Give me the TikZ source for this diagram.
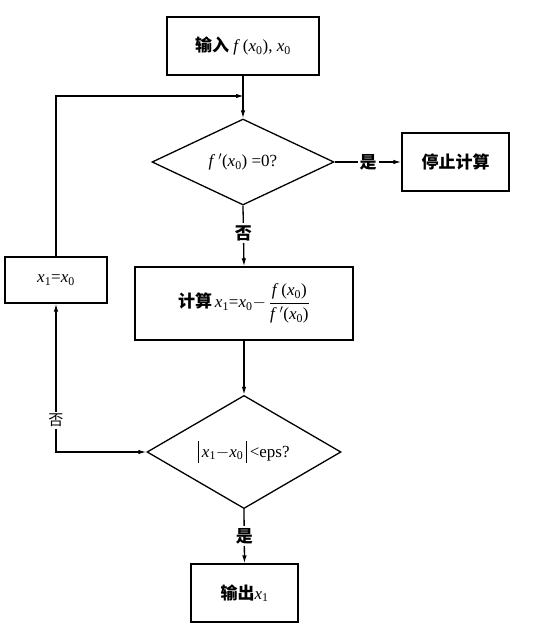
\documentclass[tikz,border=0pt]{standalone}
\usepackage{amsmath}
\usepackage{fontspec}
\setmainfont{Liberation Serif}
\newfontfamily\cjk{Noto Sans CJK SC}
\usetikzlibrary{shapes.geometric,arrows.meta}
\newcommand\xv[1]{\textit{x}\textsubscript{#1}}
\newcommand\cb[1]{{\cjk\bfseries #1}}
\newcommand\absbar{\rule[-6pt]{0.7pt}{22pt}}
\begin{document}
\begin{tikzpicture}[x=1pt,y=-1pt,
  every node/.style={font=\fontsize{17}{20}\selectfont},
  box/.style={draw,line width=1.3pt,rectangle,inner sep=0pt},
  dec/.style={draw,line width=1.3pt,diamond,inner sep=0pt},
  conn/.style={line width=1.3pt,-{Latex[length=8pt,width=4.5pt]}},
  lbl/.style={fill=white,inner sep=2pt,font=\cjk\bfseries\fontsize{17}{20}\selectfont}]
\useasboundingbox (0,0) rectangle (540,633);
\node[box,minimum width=152pt,minimum height=58pt] (in) at (243,46)
  {\cb{输入} \textit{f}\,(\xv{0}), \xv{0}};
\node[dec,minimum width=182pt,minimum height=86pt] (d1) at (243,162)
  {\textit{f}\,$'$(\xv{0}) =0?};
\node[box,minimum width=107pt,minimum height=58pt] (stop) at (455.5,162)
  {\cb{停止计算}};
\node[box,minimum width=218pt,minimum height=73pt] (calc) at (244,303.5)
  {\cb{计算}\,\xv{1}=\xv{0}$-$\,$\dfrac{\hbox{\textit{f}\,(\xv{0})}}{\hbox{\textit{f}\,$'$(\xv{0})}}$};
\node[box,minimum width=102pt,minimum height=46pt] (xx) at (56,280)
  {\xv{1}=\xv{0}};
\node[dec,minimum width=194pt,minimum height=99pt] (d2) at (244,452)
  {\absbar\,\xv{1}$-$\xv{0}\,\absbar\,<eps?};
\node[box,minimum width=107pt,minimum height=58pt] (out) at (244.5,593)
  {\cb{输出}\xv{1}};
\coordinate (j) at (244,96);
\draw[conn] (in.south) -- (d1.north);
\draw[conn] (xx.north) |- (j);
\draw[conn] (d1.east) -- node[lbl] {是} (stop.west);
\draw[conn] (d1.south) -- node[lbl,pos=0.45] {否} (calc.north);
\draw[conn] (calc.south) -- (d2.north);
\draw[conn] (d2.south) -- node[lbl,pos=0.5] {是} (out.north);
\draw[line width=1.3pt,{Latex[length=8pt,width=4.5pt]}-{Latex[length=8pt,width=4.5pt]}]
  (d2.west) -| node[lbl,pos=0.607,font=\cjk\fontsize{15}{18}\selectfont] {否} (xx.south);
\end{tikzpicture}
\end{document}
